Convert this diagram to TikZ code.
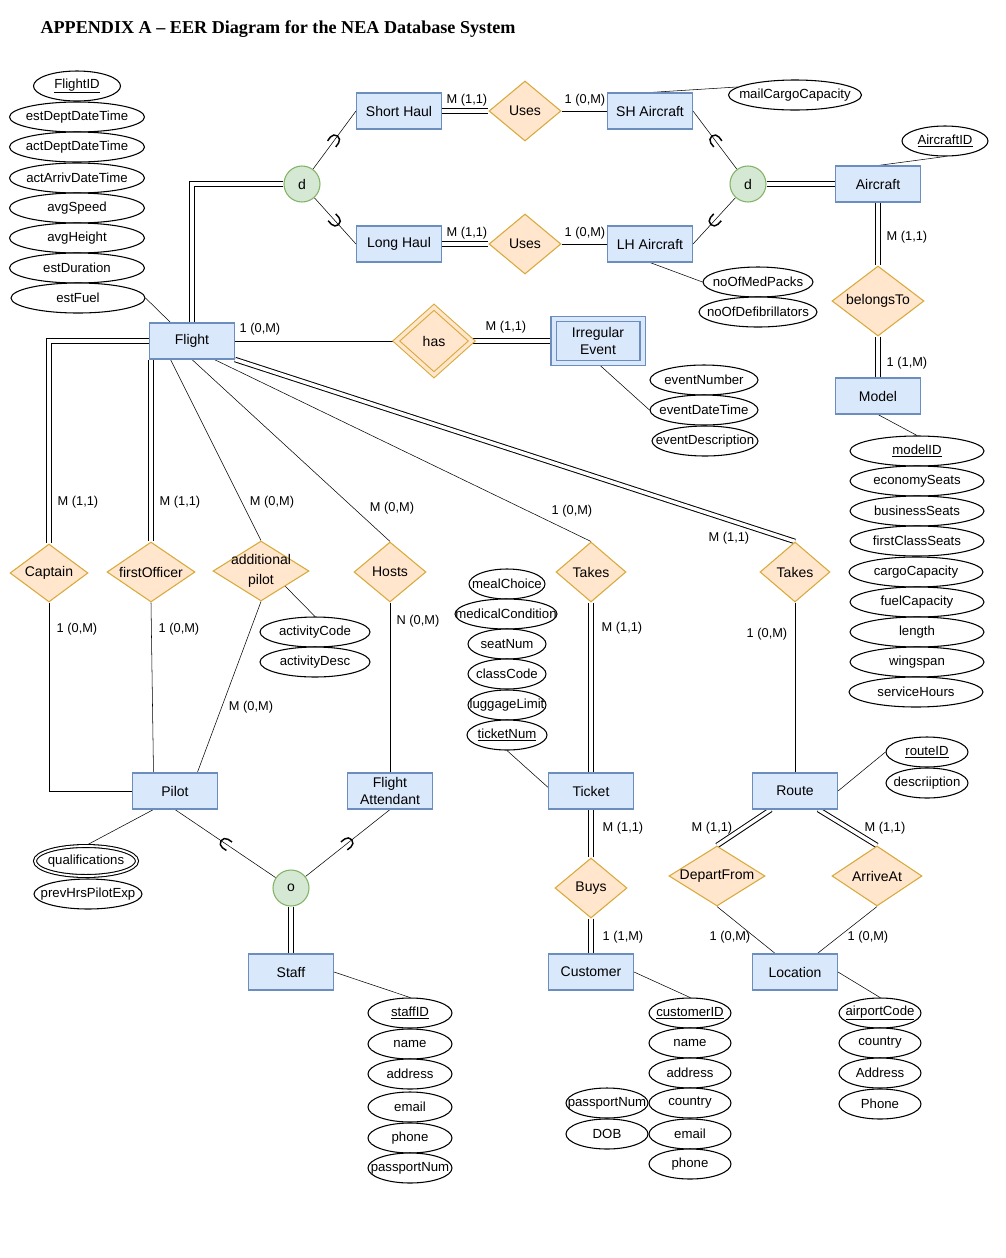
\documentclass[tikz,border=0pt]{standalone}
\usepackage{fontspec}
\setmainfont{Liberation Sans}
\newfontfamily\titlefont{Liberation Serif}
\usetikzlibrary{shapes.geometric,calc,decorations.markings,backgrounds}
\definecolor{entfill}{HTML}{DAE8FC}
\definecolor{entdraw}{HTML}{6C8EBF}
\definecolor{relfill}{HTML}{FFE6CC}
\definecolor{reldraw}{HTML}{D9A93C}
\definecolor{spcfill}{HTML}{D5E8D4}
\definecolor{spcdraw}{HTML}{82B366}
\newcommand\mz[1]{\makebox[0pt]{#1}}
\newcommand\twoln[2]{\makebox[0pt]{\begin{tabular}{@{}c@{}}#1\\[2pt]#2\end{tabular}}}
\begin{document}
\begin{tikzpicture}[x=0.75pt,y=-0.75pt,line width=0.8pt,
  ent/.style={rectangle,draw=entdraw,fill=entfill,minimum width=63.75pt,minimum height=27pt,inner sep=1pt,align=center,font=\fontsize{10.5}{13.2}\selectfont},
  rel/.style={diamond,draw=reldraw,fill=relfill,inner sep=0pt,font=\fontsize{10.5}{12.6}\selectfont},
  rw/.style 2 args={minimum width=#1*0.75pt,minimum height=#2*0.75pt},
  attr/.style={ellipse,draw=black,fill=white,inner sep=0pt,minimum height=22.5pt,font=\fontsize{9.9}{11}\selectfont},
  aw/.style={minimum width=#1*0.75pt},
  spc/.style={circle,draw=spcdraw,fill=spcfill,minimum size=27pt,inner sep=0pt,font=\fontsize{10.5}{12}\selectfont},
  card/.style={inner sep=0pt,font=\fontsize{9.6}{11}\selectfont},
  dbl/.style={double,double distance=2.6pt,line width=0.75pt},
  subs/.style={postaction={decorate},decoration={markings,mark=at position 0.5 with {\draw[line width=1.1pt] (3.6pt,3.8pt) -- (0pt,3.8pt) arc[start angle=90,end angle=270,radius=3.8pt] -- (3.6pt,-3.8pt);}}}
]
\useasboundingbox (0,0) rectangle (1006,1258);

% title
\node[anchor=base west,inner sep=0pt,font=\titlefont\bfseries\fontsize{13.6}{16}\selectfont] (title) at (40,33) {APPENDIX A – EER Diagram for the NEA Database System};

% entities
\node[ent] (SHaul) at (399,111) {Short Haul};
\node[ent] (LHaul) at (399,244) {Long Haul};
\node[ent] (SHac) at (650,111) {SH Aircraft};
\node[ent] (LHac) at (650,244) {LH Aircraft};
\node[ent] (Aircraft) at (878,184) {Aircraft};
\node[ent] (Flight) at (192,341) {Flight};
\node[ent,double=entfill,double distance=3pt,minimum width=66.75pt,minimum height=33pt] (IE) at (598,341) {Irregular\\Event};
\node[ent] (Model) at (878,396) {Model};
\node[ent] (Pilot) at (175,791) {Pilot};
\node[ent] (FA) at (390,791) {Flight\\Attendant};
\node[ent] (Ticket) at (591,791) {Ticket};
\node[ent] (Route) at (795,791) {Route};
\node[ent] (Staff) at (291,972) {Staff};
\node[ent] (Customer) at (591,972) {Customer};
\node[ent] (Location) at (795,972) {Location};

% relationships
\node[rel,rw={72}{60}] (usesT) at (525,111) {\mz{Uses}};
\node[rel,rw={72}{60}] (usesB) at (525,244) {\mz{Uses}};
\node[rel,rw={76}{68},double=relfill,double distance=2.6pt] (has) at (434,341) {\mz{has}};
\node[rel,rw={92}{70}] (belongsTo) at (878,301) {\mz{belongsTo}};
\node[rel,rw={78}{58}] (Captain) at (49,573) {\mz{Captain}};
\node[rel,rw={88}{60}] (firstOff) at (151,572) {\mz{firstOfficer}};
\node[rel,rw={96}{60}] (addPilot) at (261,571) {\twoln{additional}{pilot}};
\node[rel,rw={72}{60}] (Hosts) at (390,572) {\mz{Hosts}};
\node[rel,rw={70}{60}] (TakesA) at (591,572) {\mz{Takes}};
\node[rel,rw={70}{60}] (TakesB) at (795,572) {\mz{Takes}};
\node[rel,rw={72}{60}] (Buys) at (591,888) {\mz{Buys}};
\node[rel,rw={96}{60}] (DepartFrom) at (717,876) {\mz{DepartFrom}};
\node[rel,rw={90}{60}] (ArriveAt) at (877,876) {\mz{ArriveAt}};

% specialisation circles
\node[spc] (dL) at (302,184) {d};
\node[spc] (dR) at (748,184) {d};
\node[spc] (ov) at (291,888) {o};

% Flight attributes
\node[attr,aw=87] (fid) at (77,86) {\mz{\underline{FlightID}}};
\node[attr,aw=135] (edt) at (77,117) {\mz{estDeptDateTime}};
\node[attr,aw=135] (adt) at (77,147) {\mz{actDeptDateTime}};
\node[attr,aw=135] (aat) at (77,178) {\mz{actArrivDateTime}};
\node[attr,aw=135] (spd) at (77,208) {\mz{avgSpeed}};
\node[attr,aw=135] (hgt) at (77,238) {\mz{avgHeight}};
\node[attr,aw=135] (dur) at (77,268) {\mz{estDuration}};
\node[attr,aw=134] (fuel) at (78,298) {\mz{estFuel}};

% aircraft attributes
\node[attr,aw=133] (mail) at (795,95) {\mz{mailCargoCapacity}};
\node[attr,aw=86] (acid) at (945,141) {\mz{\underline{AircraftID}}};
\node[attr,aw=110] (medp) at (758,282) {\mz{noOfMedPacks}};
\node[attr,aw=118] (defib) at (758,312) {\mz{noOfDefibrillators}};

% irregular event attributes
\node[attr,aw=108] (evnum) at (704,380) {\mz{eventNumber}};
\node[attr,aw=108] (evdt) at (704,410) {\mz{eventDateTime}};
\node[attr,aw=106] (evdesc) at (705,441) {\mz{eventDescription}};

% model attributes
\node[attr,aw=134] (modelID) at (917,451) {\mz{\underline{modelID}}};
\node[attr,aw=134] (econ) at (917,481) {\mz{economySeats}};
\node[attr,aw=134] (bus) at (917,511) {\mz{businessSeats}};
\node[attr,aw=134] (first) at (917,541) {\mz{firstClassSeats}};
\node[attr,aw=134] (cargo) at (916,572) {\mz{cargoCapacity}};
\node[attr,aw=134] (fuelc) at (917,602) {\mz{fuelCapacity}};
\node[attr,aw=134] (len) at (917,632) {\mz{length}};
\node[attr,aw=134] (wing) at (917,662) {\mz{wingspan}};
\node[attr,aw=134] (serv) at (916,692) {\mz{serviceHours}};

% additional pilot attributes
\node[attr,aw=110] (actCode) at (315,632) {\mz{activityCode}};
\node[attr,aw=110] (actDesc) at (315,662) {\mz{activityDesc}};

% ticket attributes
\node[attr,aw=76] (meal) at (507,584) {\mz{mealChoice}};
\node[attr,aw=102] (medc) at (506,614) {\mz{medicalCondition}};
\node[attr,aw=78] (seat) at (507,644) {\mz{seatNum}};
\node[attr,aw=78] (cls) at (507,674) {\mz{classCode}};
\node[attr,aw=78] (lug) at (507,705) {\mz{luggageLimit}};
\node[attr,aw=80] (tnum) at (507,735) {\mz{\underline{ticketNum}}};

% route attributes
\node[attr,aw=82] (routeID) at (927,752) {\mz{\underline{routeID}}};
\node[attr,aw=82] (descr) at (927,783) {\mz{descriiption}};

% pilot attributes
\node[attr,aw=102,minimum height=22.5pt,double,double distance=1.4pt] (qual) at (86,861) {\mz{qualifications}};
\node[attr,aw=108] (prevh) at (88,894) {\mz{prevHrsPilotExp}};

% staff attributes
\node[attr,aw=84] (staffID) at (410,1013) {\mz{\underline{staffID}}};
\node[attr,aw=84] (sname) at (410,1044) {\mz{name}};
\node[attr,aw=84] (saddr) at (410,1074) {\mz{address}};
\node[attr,aw=84] (semail) at (410,1107) {\mz{email}};
\node[attr,aw=84] (sphone) at (410,1138) {\mz{phone}};
\node[attr,aw=84] (spass) at (410,1168) {\mz{passportNum}};

% customer attributes
\node[attr,aw=82] (custID) at (690,1013) {\mz{\underline{customerID}}};
\node[attr,aw=82] (cname) at (690,1043) {\mz{name}};
\node[attr,aw=82] (caddr) at (690,1073) {\mz{address}};
\node[attr,aw=82] (ccountry) at (690,1103) {\mz{country}};
\node[attr,aw=82] (cemail) at (690,1134) {\mz{email}};
\node[attr,aw=82] (cphone) at (690,1164) {\mz{phone}};
\node[attr,aw=82] (cpass) at (607,1103) {\mz{passportNum}};
\node[attr,aw=82] (cdob) at (607,1134) {\mz{DOB}};

% location attributes
\node[attr,aw=82] (airport) at (880,1013) {\mz{\underline{airportCode}}};
\node[attr,aw=82] (lcountry) at (880,1043) {\mz{country}};
\node[attr,aw=82] (laddr) at (880,1073) {\mz{Address}};
\node[attr,aw=82] (lphone) at (880,1104) {\mz{Phone}};

% cardinality labels
\node[card] (c1) at (467,100) {M (1,1)};
\node[card] (c2) at (585,100) {1 (0,M)};
\node[card] (c3) at (467,233) {M (1,1)};
\node[card] (c4) at (585,233) {1 (0,M)};
\node[card] (c5) at (907,237) {M (1,1)};
\node[card] (c6) at (907,363) {1 (1,M)};
\node[card] (c7) at (260,329) {1 (0,M)};
\node[card] (c8) at (506,327) {M (1,1)};
\node[card] (c9) at (78,502) {M (1,1)};
\node[card] (c10) at (180,502) {M (1,1)};
\node[card] (c11) at (272,502) {M (0,M)};
\node[card] (c12) at (392,508) {M (0,M)};
\node[card] (c13) at (572,511) {1 (0,M)};
\node[card] (c14) at (729,538) {M (1,1)};
\node[card] (c15) at (77,629) {1 (0,M)};
\node[card] (c16) at (179,629) {1 (0,M)};
\node[card] (c17) at (251,707) {M (0,M)};
\node[card] (c18) at (418,621) {N (0,M)};
\node[card] (c19) at (622,628) {M (1,1)};
\node[card] (c20) at (767,634) {1 (0,M)};
\node[card] (c21) at (623,828) {M (1,1)};
\node[card] (c22) at (623,937) {1 (1,M)};
\node[card] (c23) at (712,828) {M (1,1)};
\node[card] (c24) at (885,828) {M (1,1)};
\node[card] (c25) at (730,937) {1 (0,M)};
\node[card] (c26) at (868,937) {1 (0,M)};

\begin{scope}[on background layer]
% specialisation
\draw[dbl] (Flight.north) |- (dL.west);
\draw[subs] (SHaul.west) -- (dL);
\draw[subs] (LHaul.west) -- (dL);
\draw[subs] (SHac.east) -- (dR);
\draw[subs] (LHac.east) -- (dR);
\draw[dbl] (dR) -- (Aircraft);
\draw[subs] (Pilot.south) -- (ov);
\draw[subs] (FA.south) -- (ov);
\draw[dbl] (ov) -- (Staff);
% relationships
\draw[dbl] (SHaul) -- (usesT);
\draw (usesT) -- (SHac);
\draw[dbl] (LHaul) -- (usesB);
\draw (usesB) -- (LHac);
\draw[dbl] (Aircraft) -- (belongsTo);
\draw[dbl] (belongsTo) -- (Model);
\draw (Flight) -- (has);
\draw[dbl] (has) -- (IE);
\draw[dbl] (Flight.west) -| (Captain.north);
\draw[dbl] (firstOff.north |- Flight.south) -- (firstOff.north);
\draw ($(Flight.south west)!0.25!(Flight.south east)$) -- (addPilot.north);
\draw (Flight.south) -- (Hosts.north);
\draw ($(Flight.south west)!0.76!(Flight.south east)$) -- (TakesA.north);
\draw[dbl] (Flight.south east) -- (TakesB.north);
\draw (Captain.south) |- (Pilot.west);
\draw (firstOff.south) -- ($(Pilot.north west)!0.25!(Pilot.north east)$);
\draw (addPilot.south) -- ($(Pilot.north west)!0.76!(Pilot.north east)$);
\draw (Hosts) -- (FA);
\draw[dbl] (TakesA) -- (Ticket);
\draw (TakesB) -- (Route);
\draw[dbl] (Ticket) -- (Buys);
\draw[dbl] (Buys) -- (Customer);
\draw[dbl] ($(Route.south west)!0.22!(Route.south east)$) -- (DepartFrom.north);
\draw[dbl] ($(Route.south west)!0.77!(Route.south east)$) -- (ArriveAt.north);
\draw (DepartFrom.south) -- ($(Location.north west)!0.27!(Location.north east)$);
\draw (ArriveAt.south) -- ($(Location.north west)!0.76!(Location.north east)$);
% attribute links
\draw (fuel.east) -- ($(Flight.north west)!0.25!(Flight.north east)$);
\draw (SHac.north) -- (mail.172);
\draw (Aircraft.north) -- (acid.south);
\draw (LHac.south) -- (medp.west);
\draw (IE.south) -- (evdt.west);
\draw (Model.south) -- (modelID.north);
\draw (addPilot.south east) -- (actCode.north);
\draw (tnum.south) -- ($(Ticket.north west)!0.4!(Ticket.south west)$);
\draw (Route.east) -- (routeID.west);
\draw ($(Pilot.south west)!0.25!(Pilot.south east)$) -- (qual.north);
\draw (Staff.east) -- (staffID.north);
\draw (Customer.east) -- (custID.north);
\draw (Location.east) -- (airport.north);
\end{scope}
\end{tikzpicture}
\end{document}
